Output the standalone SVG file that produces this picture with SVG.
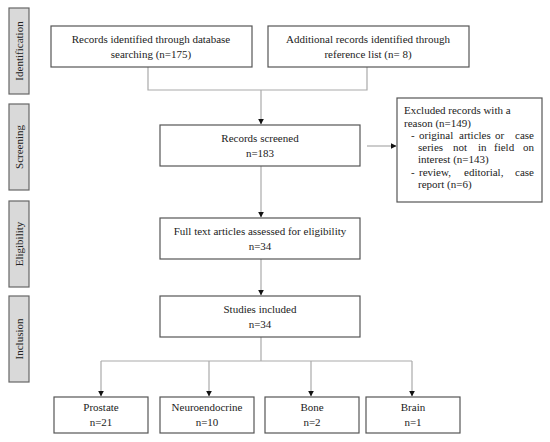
<svg xmlns="http://www.w3.org/2000/svg" width="550" height="442" viewBox="0 0 550 442">
<defs>
<style>
.box{fill:#fff;stroke:#555;stroke-width:1.2}
.side{fill:#d9d9d9;stroke:#666;stroke-width:1.2}
.t{font-family:"Liberation Serif","DejaVu Serif",serif;font-size:11px;fill:#222}
.c{text-anchor:middle}
.e{text-anchor:end}
.ln{fill:none;stroke:#aaa;stroke-width:1.2}
</style>
<marker id="ah" viewBox="0 0 10 10" refX="9" refY="5" markerWidth="6" markerHeight="6" orient="auto" markerUnits="userSpaceOnUse">
<path d="M0,0 L10,5 L0,10 z" fill="#111"/>
</marker>
</defs>
<rect width="550" height="442" fill="#fff"/>
<g id="phases">
<g id="ph-identification"><rect class="side" x="9" y="8" width="20" height="86"/><text class="t c" transform="translate(23,51) rotate(-90)">Identification</text></g>
<g id="ph-screening"><rect class="side" x="9" y="104" width="20" height="86"/><text class="t c" transform="translate(23,147) rotate(-90)">Screening</text></g>
<g id="ph-eligibility"><rect class="side" x="9" y="201" width="20" height="86"/><text class="t c" transform="translate(23,244) rotate(-90)">Eligibility</text></g>
<g id="ph-inclusion"><rect class="side" x="9" y="296" width="20" height="86"/><text class="t c" transform="translate(23,339) rotate(-90)">Inclusion</text></g>
</g>
<g id="connectors">
<path class="ln" d="M148,67 V90 H367 V67"/>
<path class="ln" d="M261,90 V124" marker-end="url(#ah)"/>
<path class="ln" d="M367,146 H396" marker-end="url(#ah)"/>
<path class="ln" d="M261,166 V217" marker-end="url(#ah)"/>
<path class="ln" d="M261,259 V295" marker-end="url(#ah)"/>
<path class="ln" d="M261,337 V361 M101,361 H412"/>
<path class="ln" d="M101,361 V396" marker-end="url(#ah)"/>
<path class="ln" d="M209,361 V396" marker-end="url(#ah)"/>
<path class="ln" d="M311,361 V396" marker-end="url(#ah)"/>
<path class="ln" d="M412,361 V396" marker-end="url(#ah)"/>
</g>
<g id="n-db"><rect class="box" x="51" y="26" width="201" height="41"/><text class="t c" x="151" y="43">Records identified through database</text><text class="t c" x="151" y="58">searching (n=175)</text></g>
<g id="n-ref"><rect class="box" x="268" y="26" width="201" height="41"/><text class="t c" x="368" y="43">Additional records identified through</text><text class="t c" x="368" y="58">reference list (n= 8)</text></g>
<g id="n-screened"><rect class="box" x="160" y="125" width="200" height="41"/><text class="t c" x="260" y="142">Records screened</text><text class="t c" x="260" y="157">n=183</text></g>
<g id="n-excluded"><rect class="box" x="397" y="98" width="145" height="104"/>
<text class="t" x="404" y="114">Excluded records with a</text>
<text class="t" x="404" y="127">reason (n=149)</text>
<text class="t" y="139"><tspan x="411">-</tspan><tspan x="419">original</tspan><tspan x="459">articles</tspan><tspan x="495">or</tspan><tspan x="534" class="e">case</tspan></text>
<text class="t" y="151"><tspan x="418">series</tspan><tspan x="453">not</tspan><tspan x="478">in</tspan><tspan x="494">field</tspan><tspan x="534" class="e">on</tspan></text>
<text class="t" x="418" y="163">interest (n=143)</text>
<text class="t" y="176"><tspan x="411">-</tspan><tspan x="419">review,</tspan><tspan x="464">editorial,</tspan><tspan x="534" class="e">case</tspan></text>
<text class="t" x="418" y="188">report (n=6)</text>
</g>
<g id="n-fulltext"><rect class="box" x="160" y="218" width="200" height="41"/><text class="t c" x="260" y="235">Full text articles assessed for eligibility</text><text class="t c" x="260" y="250">n=34</text></g>
<g id="n-included"><rect class="box" x="160" y="296" width="200" height="41"/><text class="t c" x="260" y="313">Studies included</text><text class="t c" x="260" y="328">n=34</text></g>
<g id="n-prostate"><rect class="box" x="54" y="397" width="94" height="36"/><text class="t c" x="101" y="411">Prostate</text><text class="t c" x="101" y="426">n=21</text></g>
<g id="n-neuro"><rect class="box" x="160" y="397" width="94" height="36"/><text class="t c" x="207" y="411">Neuroendocrine</text><text class="t c" x="207" y="426">n=10</text></g>
<g id="n-bone"><rect class="box" x="265" y="397" width="94" height="36"/><text class="t c" x="312" y="411">Bone</text><text class="t c" x="312" y="426">n=2</text></g>
<g id="n-brain"><rect class="box" x="366" y="397" width="94" height="36"/><text class="t c" x="413" y="411">Brain</text><text class="t c" x="413" y="426">n=1</text></g>
</svg>
